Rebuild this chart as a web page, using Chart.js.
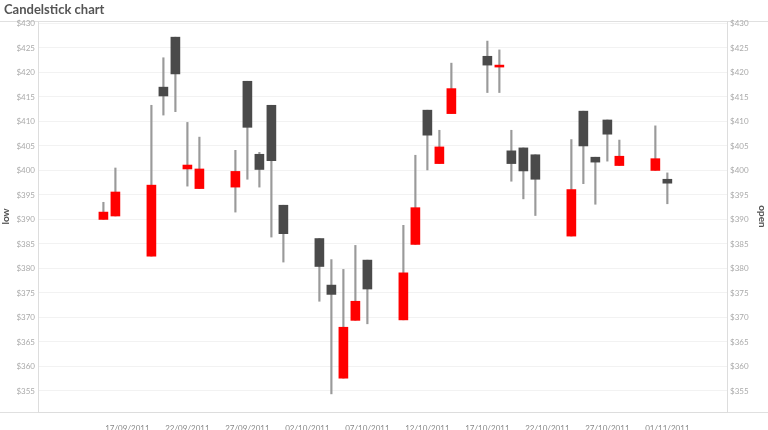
<!DOCTYPE html>
<html><head><meta charset="utf-8">
<script src="https://cdn.jsdelivr.net/npm/chart.js@4/dist/chart.umd.min.js"></script>
<style>html,body{margin:0;padding:0;background:#fff}</style>
</head><body><canvas id="c" width="768" height="430"></canvas>
<script>
const dates = ["15/09/2011","16/09/2011","19/09/2011","20/09/2011","21/09/2011","22/09/2011","23/09/2011","26/09/2011","27/09/2011","28/09/2011","29/09/2011","30/09/2011","03/10/2011","04/10/2011","05/10/2011","06/10/2011","07/10/2011","10/10/2011","11/10/2011","12/10/2011","13/10/2011","14/10/2011","17/10/2011","18/10/2011","19/10/2011","20/10/2011","21/10/2011","24/10/2011","25/10/2011","26/10/2011","27/10/2011","28/10/2011","31/10/2011","01/11/2011"];
const openV  = [391.5,395.6,397.0,415.2,419.7,401.1,400.3,399.8,408.8,400.2,402.0,387.1,380.4,374.7,368.0,373.3,375.8,379.1,392.4,407.2,404.8,416.7,421.5,421.5,401.4,399.9,398.2,396.1,405.0,401.7,407.4,402.9,402.4,397.4];
const closeV = [390.0,390.7,382.5,417.0,427.2,400.3,396.3,396.6,418.2,403.3,413.3,392.9,386.1,376.6,357.6,369.4,381.7,369.5,384.9,412.3,401.4,411.6,423.3,421.1,404.0,404.6,403.2,386.6,412.1,402.7,410.3,401.0,400.0,398.2];
const highV  = [393.5,400.5,413.3,423.0,427.2,409.8,406.8,404.1,418.2,403.7,413.3,392.9,386.1,381.8,379.8,384.7,381.7,388.8,403.1,412.3,408.2,421.9,426.4,424.6,408.2,404.6,403.2,406.3,412.1,402.7,410.3,406.2,409.1,399.5];
const lowV   = [390.0,390.7,382.5,411.3,412.0,396.8,396.3,391.5,398.2,396.6,386.4,381.3,373.3,354.4,357.6,369.4,368.7,369.5,384.9,400.1,401.4,411.6,415.9,415.9,397.8,394.2,390.8,386.6,397.3,393.1,401.9,401.0,400.0,393.2];
const yTicks = [355,360,365,370,375,380,385,390,395,400,405,410,415,420,425,430];
const xTickDates = ["17/09/2011","22/09/2011","27/09/2011","02/10/2011","07/10/2011","12/10/2011","17/10/2011","22/10/2011","27/10/2011","01/11/2011"];

const base = Date.UTC(2011,8,1);
function dnum(s){const [d,m,y]=s.split('/').map(Number);return Math.round((Date.UTC(y,m-1,d)-base)/864e5);}
function dstr(n){const t=new Date(base+n*864e5);const p=v=>String(v).padStart(2,'0');return p(t.getUTCDate())+'/'+p(t.getUTCMonth()+1)+'/'+t.getUTCFullYear();}
const xs = dates.map(dnum);
const wick = xs.map((x,i)=>({x, y:[lowV[i],highV[i]]}));
const body = xs.map((x,i)=>({x, y:[openV[i],closeV[i]]}));
const bodyCol = openV.map((o,i)=> closeV[i] < o ? '#ff0000' : '#4a4a4a');

const yCommon = (pos,title)=>({
  type:'linear', position:pos, min:350.7, max:430.5,
  afterBuildTicks:a=>{a.ticks=yTicks.map(v=>({value:v}));},
  afterFit:a=>{a.width = pos==='left'?38:41;},
  ticks:{color:'#aaa',font:{size:8,family:'Lato'},callback:v=>'$'+v,padding:3,autoSkip:false},
  grid:{display:pos==='left',color:'#f2f2f2',drawTicks:false},
  border:{color:'#ddd'},
  title:{display:true,text:title,color:'#555',font:{size:10,weight:'bold',family:'Lato'},padding:0}
});

const deco = {id:'deco', beforeDraw(c){const g=c.ctx;g.save();
  g.fillStyle='#555';g.font='bold 13px Lato';g.textBaseline='middle';g.fillText('Candelstick chart',4,10);
  g.strokeStyle='#e0e0e0';g.lineWidth=1;g.beginPath();g.moveTo(0,21.5);g.lineTo(768,21.5);g.stroke();
  g.beginPath();g.moveTo(0,412.5);g.lineTo(768,412.5);g.stroke();g.restore();}};

new Chart(document.getElementById('c'),{
  type:'bar',
  data:{datasets:[
    {data:wick, backgroundColor:'#9a9a9a', barThickness:1.5, grouped:false, yAxisID:'y', order:2},
    {data:body, backgroundColor:bodyCol, barThickness:9, grouped:false, yAxisID:'y', order:1}
  ]},
  options:{responsive:false, animation:false, devicePixelRatio:1,
    layout:{padding:{top:21,left:0,right:0,bottom:0}},
    plugins:{legend:{display:false},tooltip:{enabled:false}},
    scales:{
      x:{type:'linear', min:11.42, max:63.1,
        afterBuildTicks:a=>{a.ticks=xTickDates.map(s=>({value:dnum(s)}));},
        afterFit:a=>{a.height=18;},
        ticks:{color:'#888',font:{size:8,family:'Lato'},callback:v=>dstr(v),maxRotation:0,autoSkip:false,padding:4},
        grid:{display:false}, border:{color:'#ddd'}},
      y:yCommon('left','low'),
      y2:yCommon('right','open')
    }},
  plugins:[deco]
});
</script></body></html>
